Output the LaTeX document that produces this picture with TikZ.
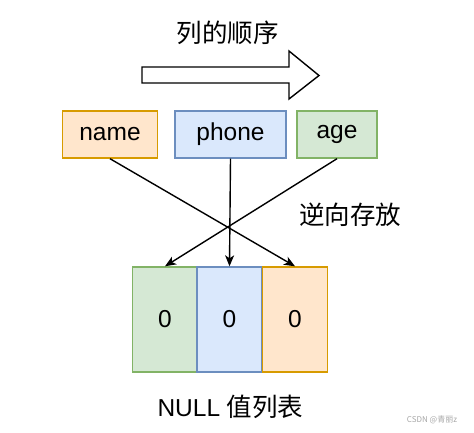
\documentclass[tikz,border=0pt]{standalone}
\usepackage{fontspec}
\setmainfont{Liberation Sans}
\newfontfamily\cjk{Noto Sans CJK SC}
\usetikzlibrary{arrows.meta}
\definecolor{orangefill}{HTML}{FFE6CC}
\definecolor{orangeline}{HTML}{D79B00}
\definecolor{bluefill}{HTML}{DAE8FC}
\definecolor{blueline}{HTML}{6C8EBF}
\definecolor{greenfill}{HTML}{D5E8D4}
\definecolor{greenline}{HTML}{82B366}
\begin{document}
\begin{tikzpicture}[x=1pt,y=-1pt]

	\tikzstyle{field} = [rectangle, minimum height=47pt, inner sep=0pt, text centered, line width=1.4pt, font=\fontsize{24.5}{28}\selectfont]
	\tikzstyle{cell} = [rectangle, minimum width=65pt, minimum height=105pt, inner sep=0pt, text centered, line width=1.4pt, font=\fontsize{24.5}{28}\selectfont]
	\tikzstyle{label} = [inner sep=0pt, font=\cjk\fontsize{25.5}{28}\selectfont]
	\tikzstyle{arrow} = [line width=1.4pt,-{Stealth[length=11pt,width=9pt,inset=3pt]}]

	\useasboundingbox (0,0) rectangle (474,433);

	% order arrow
	\node (order) [label] at (227.5,33) {列的顺序};
	\draw[line width=1.4pt, fill=white] (142,67) -- (289,67) -- (289,51) -- (319,75.5) -- (289,99) -- (289,83) -- (142,83) -- cycle;

	% columns
	\node (name) [field, minimum width=95pt, draw=orangeline, fill=orangefill] at (110,134.5) {name};
	\node (phone) [field, minimum width=111pt, draw=blueline, fill=bluefill] at (230.5,134.5) {phone};
	\node (age) [field, minimum width=80pt, draw=greenline, fill=greenfill] at (337,134.5) {age};

	% null list
	\node (cellL) [cell, draw=greenline, fill=greenfill] at (165,319.5) {0};
	\node (cellM) [cell, draw=blueline, fill=bluefill] at (229.5,319.5) {0};
	\node (cellR) [cell, draw=orangeline, fill=orangefill] at (295,319.5) {0};

	\draw [arrow] (name.south) -- (cellR.north);
	\draw [arrow] (phone.south) -- (cellM.north);
	\draw [arrow] (age.south) -- (cellL.north);

	\node (reverse) [label] at (350,215) {逆向存放};
	\node (nulllist) [inner sep=0pt, font=\fontsize{24.5}{28}\selectfont] at (230.5,407) {NULL {\cjk\fontsize{25.5}{28}\selectfont 值列表}};

	\node (mark) [inner sep=0pt, text=black!35, font=\cjk\fontsize{8}{9}\selectfont] at (432,420) {CSDN @青丽z};

\end{tikzpicture}
\end{document}
